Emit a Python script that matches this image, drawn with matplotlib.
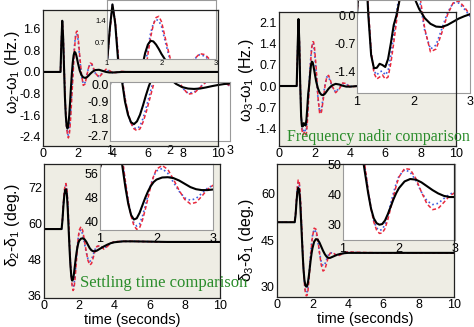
import matplotlib
matplotlib.use("Agg")
import matplotlib.pyplot as plt

plt.rcParams["font.family"] = ["Liberation Sans", "DejaVu Sans"]
plt.rcParams["mathtext.fontset"] = "custom"
plt.rcParams["mathtext.rm"] = "Liberation Sans"
plt.rcParams["mathtext.it"] = "Liberation Sans"

# time grid (s), shared by every trace
t = [0, 1.0, 1.05, 1.1, 1.15, 1.2, 1.25, 1.3, 1.35, 1.4, 1.45, 1.5, 1.55, 1.6, 1.65,
     1.7, 1.75, 1.8, 1.85, 1.9, 1.95,
     2.0, 2.1, 2.2, 2.3, 2.4, 2.5, 2.6, 2.7, 2.8, 2.9, 3.0,
     3.2, 3.4, 3.6, 3.8, 4.0,
     4.5, 5.0, 6.0, 7.0, 8.0, 10.0]

# omega2 - omega1 (Hz.)
w21_black = [0, 0, 1.1, 1.9, 1.3, 0.2, -0.9, -1.6, -2.0, -2.1, -1.95, -1.6, -1.1, -0.55, -0.05,
             0.35, 0.62, 0.74, 0.72, 0.62, 0.48,
             0.32, 0.05, -0.12, -0.2, -0.22, -0.2, -0.14, -0.07, -0.01, 0.04, 0.07,
             0.08, 0.04, 0.0, -0.02, -0.02,
             0.0, 0.0, 0.0, 0.0, 0.0, 0.0]
w21_red = [0, 0, 1.0, 1.85, 1.4, 0.4, -0.7, -1.5, -2.05, -2.35, -2.45, -2.35, -2.0, -1.5, -0.9,
           -0.3, 0.3, 0.85, 1.25, 1.48, 1.52,
           1.35, 0.6, -0.1, -0.5, -0.45, -0.15, 0.15, 0.33, 0.3, 0.12, -0.05,
           -0.2, -0.05, 0.1, 0.05, -0.04,
           0.02, 0.0, 0.0, 0.0, 0.0, 0.0]
w21_blue = [0, 0, 1.05, 1.9, 1.35, 0.35, -0.75, -1.55, -2.05, -2.3, -2.35, -2.2, -1.8, -1.25, -0.65,
            -0.05, 0.5, 0.98, 1.3, 1.42, 1.38,
            1.2, 0.5, -0.15, -0.45, -0.4, -0.12, 0.15, 0.3, 0.25, 0.08, -0.06,
            -0.17, -0.03, 0.08, 0.03, -0.03,
            0.01, 0.0, 0.0, 0.0, 0.0, 0.0]

# omega3 - omega1 (Hz.)
w31_black = [0, 0, 1.2, 2.2, 1.4, 0.0, -1.0, -1.33, -1.32, -1.22, -1.25, -1.3, -1.1, -0.7, -0.25,
             0.0, 0.35, 0.65, 0.8, 0.78, 0.65,
             0.48, 0.15, -0.08, -0.22, -0.29, -0.3, -0.25, -0.17, -0.09, -0.03, 0.02,
             0.07, 0.05, 0.01, -0.02, -0.02,
             0.0, 0.0, 0.0, 0.0, 0.0, 0.0]
w31_red = [0, 0, 1.1, 2.1, 1.5, 0.2, -0.9, -1.45, -1.6, -1.55, -1.5, -1.6, -1.55, -1.2, -0.7,
           -0.15, 0.4, 0.9, 1.25, 1.45, 1.45,
           1.3, 0.6, -0.35, -0.92, -0.85, -0.45, 0.0, 0.3, 0.35, 0.2, 0.0,
           -0.22, -0.1, 0.1, 0.08, -0.03,
           0.0, 0.0, 0.0, 0.0, 0.0, 0.0]
w31_blue = [0, 0, 1.15, 2.15, 1.45, 0.1, -0.95, -1.4, -1.5, -1.42, -1.4, -1.5, -1.4, -1.0, -0.5,
            0.05, 0.55, 0.98, 1.28, 1.4, 1.35,
            1.15, 0.45, -0.4, -0.85, -0.75, -0.35, 0.05, 0.3, 0.3, 0.15, -0.03,
            -0.2, -0.07, 0.08, 0.06, -0.02,
            0.0, 0.0, 0.0, 0.0, 0.0, 0.0]

# delta2 - delta1 (deg.)
d21_black = [58, 58, 61, 65.5, 69, 71, 71.3, 69.5, 64.5, 58, 51.5, 46, 42.3, 40.8, 41.2,
             43, 45.5, 48, 50.2, 52, 53.3,
             54.1, 54.8, 54.9, 54.6, 53.8, 52.7, 51.6, 50.9, 50.6, 50.6, 50.8,
             51.5, 52.2, 52.8, 53.3, 53.6,
             53.9, 53.9, 53.8, 53.7, 53.7, 53.7]
d21_red = [58, 58, 61.5, 66.5, 70.5, 72.8, 73.2, 71.5, 67, 60.5, 53.5, 47, 42, 38.8, 37.5,
           38, 40.5, 44, 48, 52, 55.3,
           57.6, 58.8, 57.5, 54.2, 50.5, 47.5, 46.0, 46.5, 48.5, 50.8, 52.2,
           52.5, 51.3, 52.2, 53.3, 53.8,
           53.9, 53.9, 53.8, 53.7, 53.7, 53.7]
d21_blue = [58, 58, 61.3, 66.2, 70, 72.2, 72.6, 71, 66.5, 60, 53, 47, 42.5, 39.6, 38.6,
            39.3, 41.8, 45.2, 49, 52.5, 55.3,
            57, 57.8, 56.2, 53.2, 50.2, 48, 47.2, 47.8, 49.5, 51.2, 52.2,
            52.3, 51.6, 52.4, 53.3, 53.7,
            53.9, 53.9, 53.8, 53.7, 53.7, 53.7]

# delta3 - delta1 (deg.)
d31_black = [50.7, 50.7, 53, 57, 60.3, 61.7, 61, 58, 52.5, 46.5, 40.5, 35.5, 32.2, 30.6, 30.1,
             30.3, 31.5, 33.6, 36, 38.5, 40.6,
             42.3, 44.5, 45.3, 45.1, 44.2, 42.9, 41.6, 40.5, 39.7, 39.3, 39.3,
             39.8, 40.3, 40.6, 40.8, 40.9,
             40.9, 40.9, 40.9, 40.9, 40.9, 40.9]
d31_red = [50.7, 50.7, 53.5, 58, 62, 64.2, 64, 61, 55, 48.5, 41.5, 35.5, 31, 28.3, 27.2,
           27.3, 28.8, 31.8, 35.5, 39.5, 43,
           46, 48.8, 48.5, 45.5, 41, 37, 35.1, 35.5, 37.5, 39.6, 40.8,
           40.8, 39.8, 40.3, 41, 41.2,
           41.1, 41.0, 40.9, 40.9, 40.9, 40.9]
d31_blue = [50.7, 50.7, 53.3, 57.6, 61.4, 63.4, 63.2, 60.4, 54.6, 48, 41.3, 35.6, 31.4, 29, 28.2,
            28.5, 30.2, 33.2, 37, 40.6, 43.8,
            46.3, 48.4, 47.6, 44.8, 41, 38, 36.8, 37.2, 38.8, 40.2, 41.0,
            40.7, 40.0, 40.4, 40.9, 41.1,
            41.0, 40.9, 40.9, 40.9, 40.9, 40.9]

main_xticks = [0, 2, 4, 6, 8, 10]
inset_xticks = [1, 2, 3]

W, H = 474, 327
BEIGE = "#eeede4"
RED = "#e8283c"
BLUE = "#3f5fe0"
GREEN = "#2a8c2a"
TICK_FS = 9


def _rect(l, t_, r, b):
    """pixel box (left, top, right, bottom) -> figure fraction rect"""
    return [l / W, 1 - b / H, (r - l) / W, (b - t_) / H]


def _traces(ax, black, red, blue):
    ax.plot(t, blue, color=BLUE, linestyle=(0, (1, 1.6)), linewidth=1.2)
    ax.plot(t, red, color=RED, linestyle=(0, (2.5, 1.6)), linewidth=1.1)
    ax.plot(t, black, color="black", linewidth=1.5)


def _main(fig, box, data, ylim, yticks, fmt):
    ax = fig.add_axes(_rect(*box))
    ax.set_facecolor(BEIGE)
    _traces(ax, *data)
    ax.set_xlim(0, 10)
    ax.set_ylim(*ylim)
    ax.set_xticks(main_xticks)
    ax.set_yticks(yticks)
    ax.set_yticklabels([fmt.format(v) for v in yticks])
    ax.tick_params(length=0, labelsize=TICK_FS, pad=1.5)
    for s in ax.spines.values():
        s.set_visible(False)
    return ax


def _inset(fig, box, data, ylim, yticks, fmt, labelsize=TICK_FS, xpad=2):
    ax = fig.add_axes(_rect(*box))
    ax.set_facecolor("white")
    _traces(ax, *data)
    ax.set_xlim(1, 3)
    ax.set_ylim(*ylim)
    ax.set_xticks(inset_xticks)
    ax.set_yticks(yticks)
    ax.set_yticklabels([fmt.format(v) for v in yticks])
    ax.tick_params(length=0, labelsize=labelsize, pad=1)
    ax.tick_params(axis="x", pad=xpad)
    for s in ax.spines.values():
        s.set_color("#9a9a9a")
        s.set_linewidth(0.8)
    return ax


def _frame(fig, box):
    # main-axes frame drawn on top of the insets
    ax = fig.add_axes(_rect(*box))
    ax.patch.set_visible(False)
    ax.set_xticks([])
    ax.set_yticks([])
    for s in ax.spines.values():
        s.set_color("#222222")
        s.set_linewidth(0.9)


def main():
    fig = plt.figure(figsize=(W / 100, H / 100), dpi=100)

    b1 = (43, 10, 218, 146)
    b2 = (279, 12, 456, 146)
    b3 = (44, 164, 220, 298)
    b4 = (277, 164, 454, 297)

    w21 = (w21_black, w21_red, w21_blue)
    w31 = (w31_black, w31_red, w31_blue)
    d21 = (d21_black, d21_red, d21_blue)
    d31 = (d31_black, d31_red, d31_blue)

    _main(fig, b1, w21, (-2.75, 2.3), [1.6, 0.8, 0.0, -0.8, -1.6, -2.4], "{:.1f}")
    _main(fig, b2, w31, (-1.97, 2.43), [2.1, 1.4, 0.7, 0.0, -0.7, -1.4], "{:.1f}")
    a3 = _main(fig, b3, d21, (35, 79.7), [36, 48, 60, 72], "{:.0f}")
    a4 = _main(fig, b4, d31, (26.8, 69.3), [30, 45, 60], "{:.0f}")

    _inset(fig, (107, 0, 216, 59), w21, (0.16, 2.04), [0.7, 1.4], "{:.1f}",
           labelsize=5.5, xpad=1)
    _inset(fig, (110, 82, 230, 141), w21, (-3.0, 0.15), [0.0, -0.9, -1.8, -2.7], "{:.1f}",
           xpad=3)
    _inset(fig, (357, 0, 470, 93), w31, (-1.95, 0.375), [0.0, -0.7, -1.4], "{:.1f}")
    _inset(fig, (100, 164, 213, 230), d21, (37.3, 59.3), [40, 48, 56], "{:.0f}")
    _inset(fig, (343, 164, 455, 240), d31, (25, 50.3), [30, 40, 50], "{:.0f}")

    for b in (b1, b2, b3, b4):
        _frame(fig, b)

    ylab = dict(fontsize=11.5, rotation=90, ha="center", va="center")
    fig.text(12 / W, 1 - 72 / H, r"$\omega_2$-$\omega_1$ (Hz.)", **ylab)
    fig.text(246 / W, 1 - 80 / H, r"$\omega_3$-$\omega_1$ (Hz.)", **ylab)
    fig.text(12 / W, 1 - 225 / H, r"$\delta_2$-$\delta_1$ (deg.)", **ylab)
    fig.text(246 / W, 1 - 240 / H, r"$\delta_3$-$\delta_1$ (deg.)", **ylab)

    for ax in (a3, a4):
        ax.set_xlabel("time (seconds)", fontsize=10.5, labelpad=1)

    serif = ["Liberation Serif", "DejaVu Serif"]
    fig.text(287 / W, 1 - 137 / H, "Frequency nadir comparison", family=serif,
             fontsize=11.5, color=GREEN, va="center", zorder=10)
    fig.text(80 / W, 1 - 283 / H, "Settling time comparison", family=serif,
             fontsize=12, color=GREEN, va="center", zorder=10)

    fig.savefig("out.png", dpi=100)
    plt.close(fig)


if __name__ == "__main__":
    main()
